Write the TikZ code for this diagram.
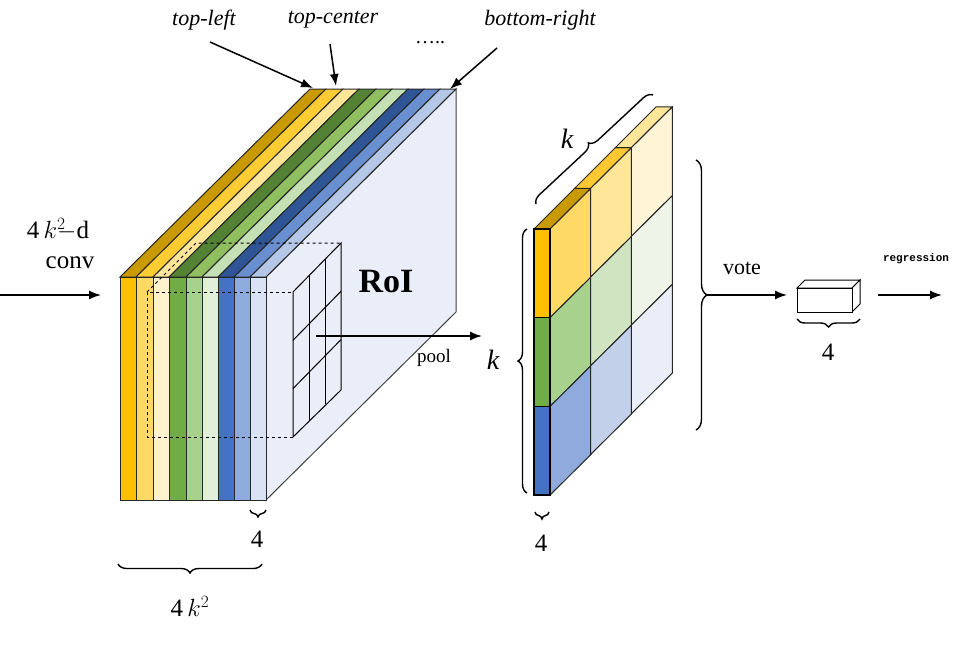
\documentclass[tikz,border=0pt]{standalone}
\usepackage{fontspec}
\setmainfont{Liberation Serif}
\newfontfamily\monof{Liberation Mono}
\usetikzlibrary{decorations.pathreplacing,arrows.meta}
\definecolor{backp}{HTML}{E9EEF8}
\begin{document}
\begin{tikzpicture}[x=1pt,y=-1pt,
  ln/.style={draw=black!85,line width=1pt},
  arr/.style={-{Latex[length=12pt,width=9pt]},line width=1.5pt},
  brc/.style={decorate,decoration={brace,amplitude=9pt},line width=1.4pt},
  lbl/.style={font=\fontsize{22}{26}\selectfont\itshape},
  txt/.style={font=\fontsize{25}{30}\selectfont}]
\useasboundingbox (0,0) rectangle (963,653);
% left stack
\filldraw[fill=backp,draw=black!75,line width=1pt] (266,277) -- (456,89) -- (456,312) -- (266,500) -- cycle;
\foreach \xa/\xb/\ft/\tp in {120/136/FFC000/C99A00,136/153/FFD966/FFCC33,153/169/FFF2CC/FFE699,169/186/70AD47/548235,186/202/A9D18E/8FBF5F,202/218/E2F0D9/C5E0B4,218/234/4472C4/2F5597,234/250/8FAADC/6A8FD0,250/266/DAE3F3/B4C7E7}{
  \definecolor{cf}{HTML}{\ft}\definecolor{ct}{HTML}{\tp}
  \filldraw[fill=ct,ln] (\xa,277) -- (\xb,277) -- (\xb+190,89) -- (\xa+190,89) -- cycle;
  \filldraw[fill=cf,ln] (\xa,277) rectangle (\xb,500);
}
% RoI box
\draw[dashed,line width=1pt] (293,437) -- (147,437) -- (147,292) -- (293,292);
\draw[dashed,line width=1pt] (147,292) -- (196,243) -- (341,243);
\fill[backp] (293,292) -- (341,243) -- (341,390) -- (293,437) -- cycle;
\draw[line width=1pt] (293,292) -- (341,243) -- (341,390) -- (293,437) -- cycle;
\foreach \t in {1,2}{
  \draw[line width=1pt] (293+16*\t,292-16.3*\t) -- (293+16*\t,437-16.3*\t);
  \draw[line width=1pt] (293,292+48.3*\t) -- (341,243+48.3*\t);
}
\node[font=\fontsize{34}{38}\selectfont\bfseries] (roi) at (386,282) {RoI};
\coordinate (ps) at (316,336); \coordinate (pe) at (482,336);
\draw[arr] (ps) -- (pe);
\node[font=\fontsize{19}{22}\selectfont] (pool) at (434,358) {pool};
% top labels
\node[lbl] (tl) at (204,20) {top-left};
\node[lbl] (tc) at (333,20) {top-center};
\node[lbl] (br) at (540,20) {bottom-right};
\node[font=\fontsize{20}{24}\selectfont] (dots) at (430,43) {\ldots..};
\coordinate (a1) at (313,88); \coordinate (a2) at (336,86); \coordinate (a3) at (450,89);
\draw[arr] (210,42) -- (a1);
\draw[arr] (330,44) -- (a2);
\draw[arr] (497,48) -- (a3);
% left input
\node[txt] (cv1) at (58,229) {4\,$k^2$\!\!$-$d};
\node[txt] (cv2) at (70,263) {conv};
\coordinate (in0) at (0,295); \coordinate (in1) at (101,295);
\draw[arr] (in0) -- (in1);
% braces under left stack
\draw[brc,decoration={amplitude=7pt}] (266,510) -- (250,510);
\node[txt] (f1) at (257,539) {4};
\draw[brc] (262,564) -- (118,564);
\node[txt] (f2) at (190,606) {4\,$k^2$};
% middle grid
\foreach \c/\tp/\ga/\gb/\gc in {0/C99A00/FFD966/A9D18E/8FAADC,1/FFC832/FFE699/D0E4C2/C3D0EA,2/FFE699/FFF4D6/EEF5E8/E9EEF8}{
  \definecolor{ct}{HTML}{\tp}
  \definecolor{r0}{HTML}{\ga}\definecolor{r1}{HTML}{\gb}\definecolor{r2}{HTML}{\gc}
  \filldraw[fill=ct,ln] (534+40.7*\c,229-40.7*\c) -- (550+40.7*\c,229-40.7*\c) -- (550+40.7*\c+40.7,188.3-40.7*\c) -- (534+40.7*\c+40.7,188.3-40.7*\c) -- cycle;
  \foreach \r/\cc in {0/r0,1/r1,2/r2}{
    \filldraw[fill=\cc,ln] (550+40.7*\c,229-40.7*\c+88.7*\r) -- (591+40.7*\c,188.3-40.7*\c+88.7*\r) -- (591+40.7*\c,188.3-40.7*\c+88.7*\r+88.7) -- (550+40.7*\c,229-40.7*\c+88.7*\r+88.7) -- cycle;
  }
}
\definecolor{s0}{HTML}{FFC000}\definecolor{s1}{HTML}{70AD47}\definecolor{s2}{HTML}{4472C4}
\foreach \r/\cc in {0/s0,1/s1,2/s2}{
  \filldraw[fill=\cc,draw=black,line width=1.3pt] (534,229+88.7*\r) rectangle (550,229+88.7*\r+88.7);
}
% braces middle
\draw[brc] (527,493) -- (527,229);
\node[font=\fontsize{28}{30}\selectfont\itshape] (k1) at (493,360) {k};
\draw[brc] (536,204) -- (653,95);
\node[font=\fontsize{28}{30}\selectfont\itshape] (k2) at (567,139) {k};
\draw[brc,decoration={amplitude=7pt}] (549,512) -- (535,512);
\node[txt] (f3) at (541,543) {4};
\draw[brc,decoration={amplitude=11pt}] (696,160) -- (696,430);
\coordinate (v0) at (706,295); \coordinate (v1) at (787,295);
\draw[arr] (v0) -- (v1);
\node[font=\fontsize{22}{26}\selectfont] (vote) at (742,268) {vote};
% small box
\filldraw[fill=white,draw=black,line width=1pt] (797,288) -- (805,280) -- (860,280) -- (852,288) -- cycle;
\filldraw[fill=white,draw=black,line width=1pt] (852,288) -- (860,280) -- (860,304) -- (852,312) -- cycle;
\filldraw[fill=white,draw=black,line width=1pt] (797,288) rectangle (852,312);
\draw[brc,decoration={amplitude=8pt}] (860,319) -- (797,319);
\node[txt] (f4) at (828,352) {4};
\coordinate (r0) at (878,295); \coordinate (r1) at (942,295);
\draw[arr] (r0) -- (r1);
\node[font=\monof\bfseries\fontsize{11}{12}\selectfont] (reg) at (916,259) {regression};
\end{tikzpicture}
\end{document}
